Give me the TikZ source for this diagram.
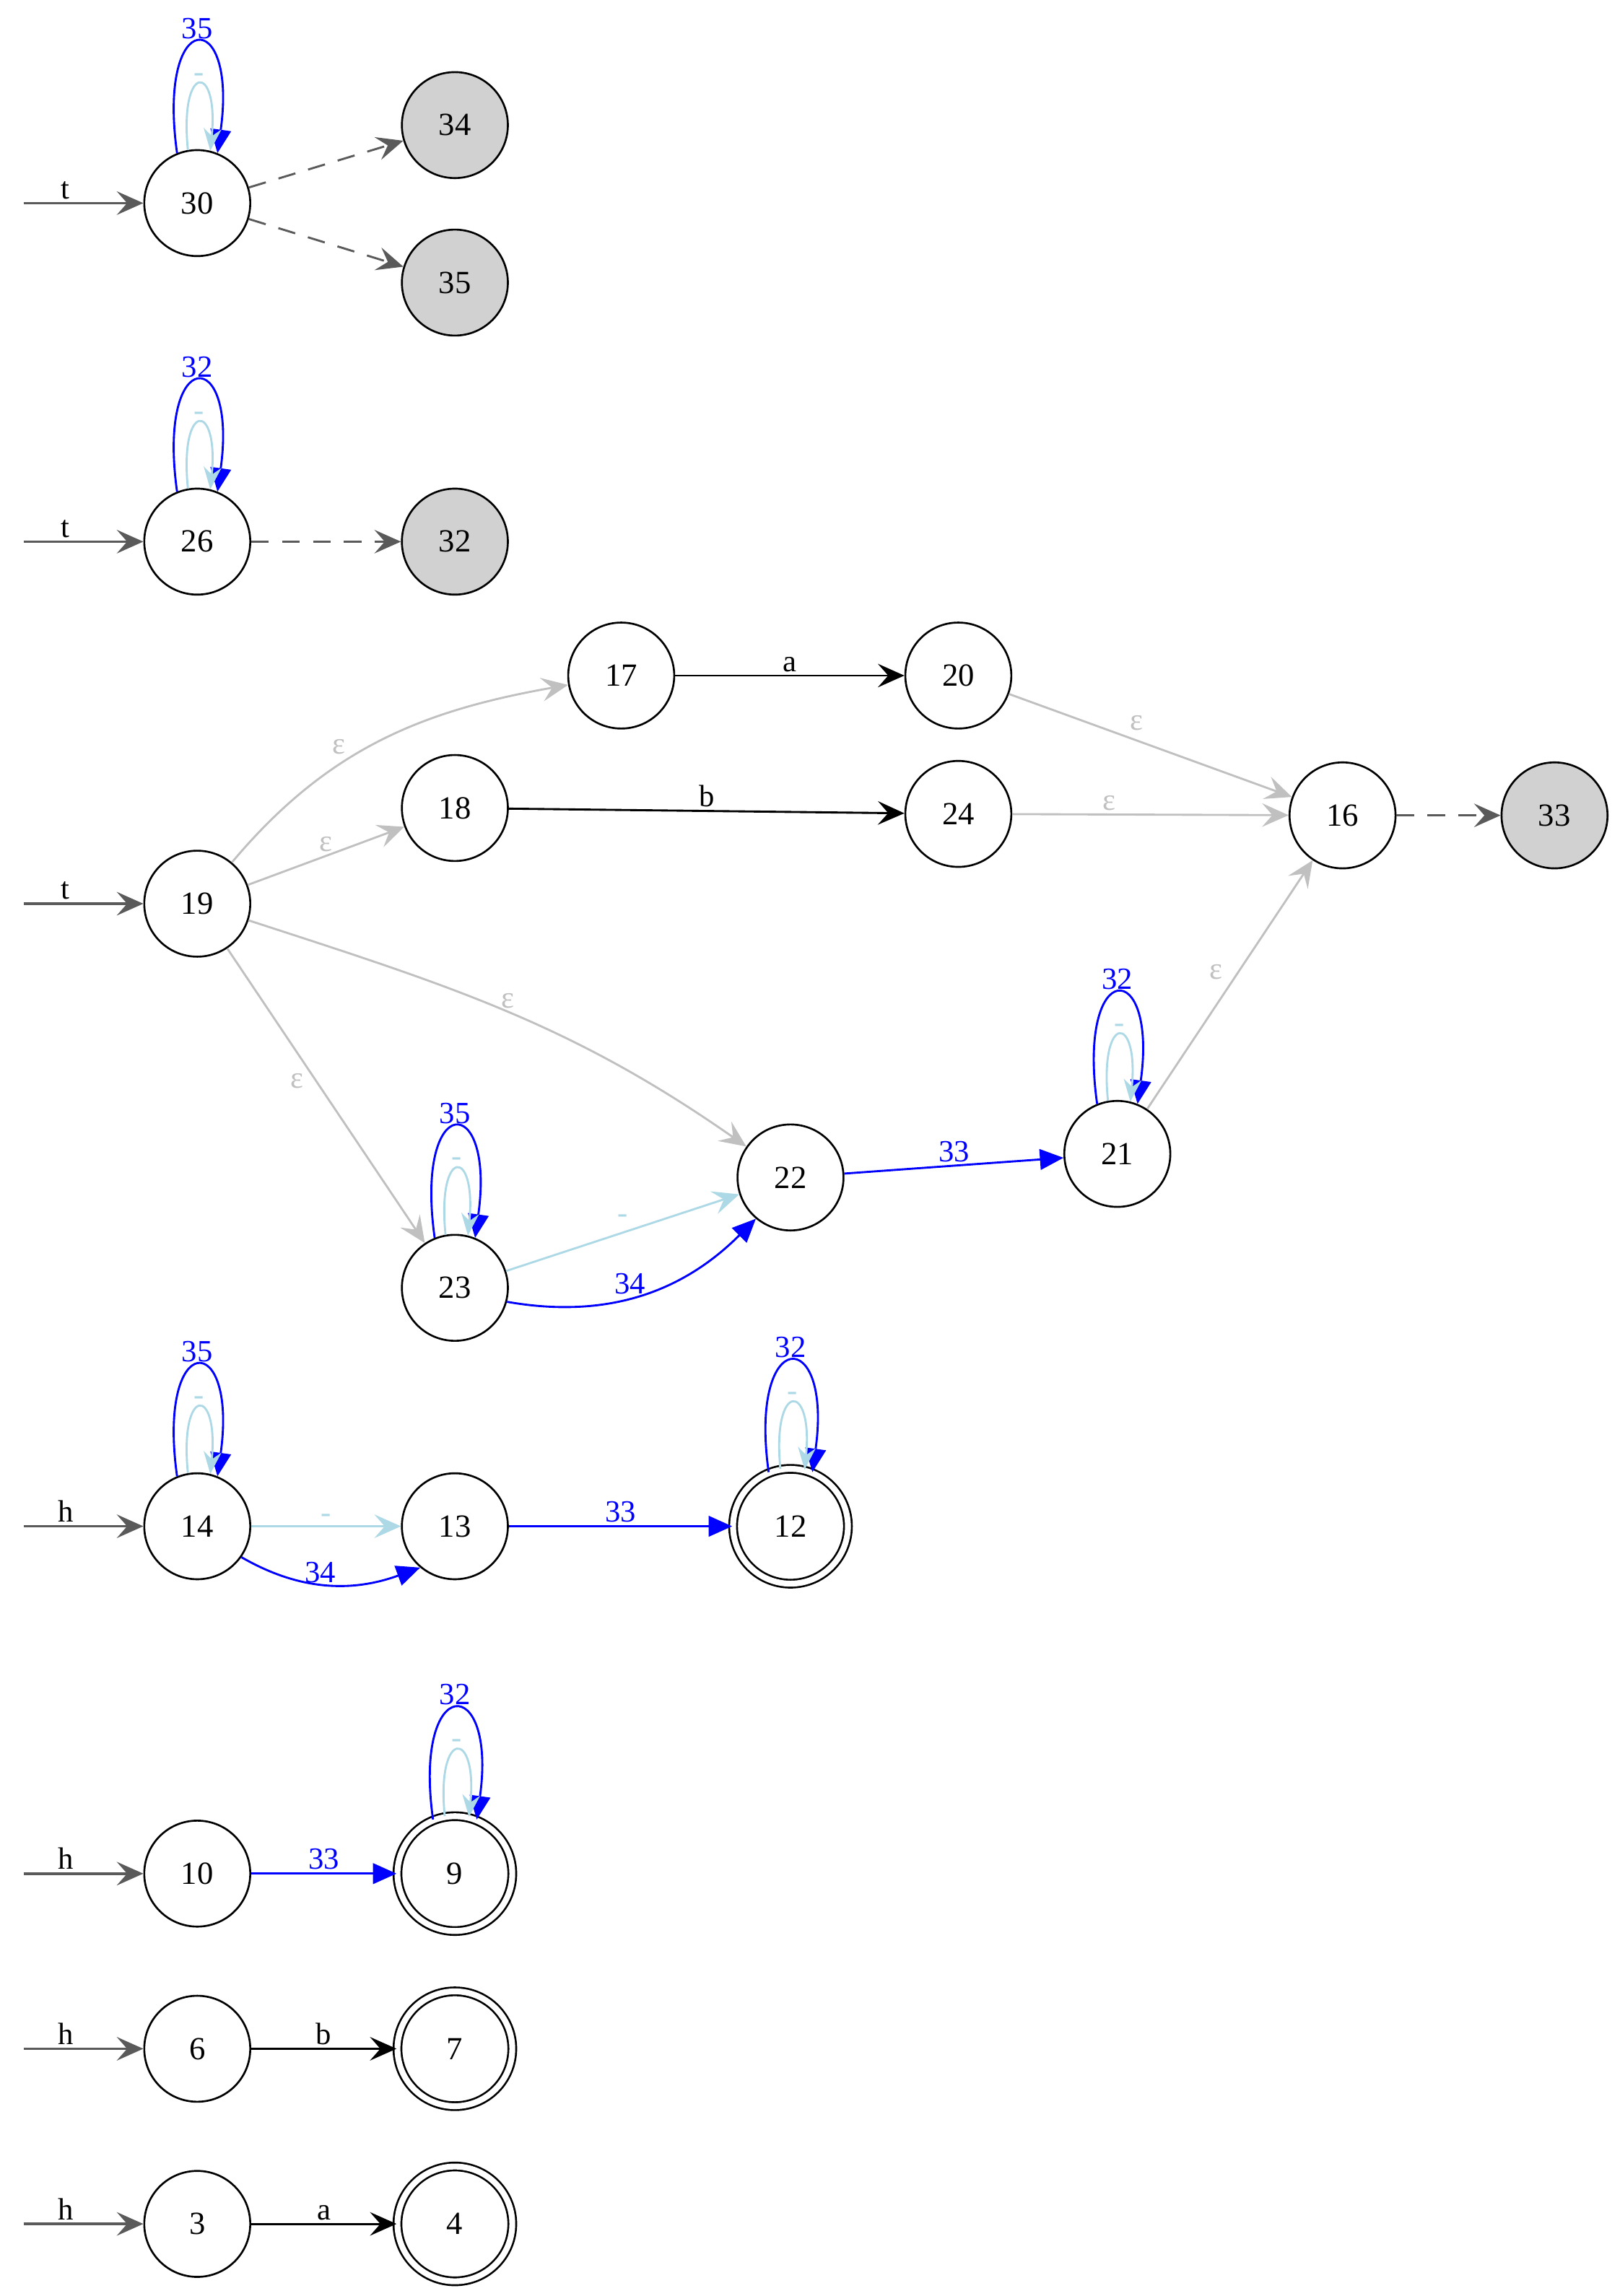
\documentclass[tikz,border=0pt]{standalone}
\usepackage{fontspec}
\setmainfont{Liberation Serif}
\usetikzlibrary{arrows.meta}
\definecolor{eps}{HTML}{C0C0C0}
\definecolor{lb}{HTML}{ADD8E6}
\definecolor{dg}{HTML}{5A5A5A}
\begin{document}
\begin{tikzpicture}[x=1bp,y=-1bp,
  st/.style={circle,draw,line width=1.3bp,minimum size=72bp,inner sep=0pt,font=\fontsize{22}{24}\selectfont},
  acc/.style={st,double,double distance=4bp,minimum size=78bp},
  sink/.style={st,fill=black!18},
  vee/.style={-{Stealth[length=18bp,width=16bp,inset=7bp]}},
  tri/.style={-{Triangle[length=16bp,width=14bp]}},
  lab/.style={font=\fontsize{21}{23}\selectfont,inner sep=2bp},
  init/.style={vee,dg,line width=1.8bp},
  dsh/.style={vee,dg,line width=1.4bp,dashed,dash pattern=on 12bp off 9bp},
  ep/.style={vee,eps,line width=1.4bp},
  bk/.style={vee,black,line width=1.4bp},
  bl/.style={tri,blue,line width=1.4bp},
  lbe/.style={vee,lb,line width=1.4bp}]
\useasboundingbox (0,0) rectangle (1100,1560);
% nodes
\node[st] (n30) at (134,138) {30};
\node[sink] (n34) at (309,85) {34};
\node[sink] (n35) at (309,192) {35};
\node[st] (n26) at (134,368) {26};
\node[sink] (n32) at (309,368) {32};
\node[st] (n17) at (422,459) {17};
\node[st] (n20) at (651,459) {20};
\node[st] (n18) at (309,549) {18};
\node[st] (n24) at (651,553) {24};
\node[st] (n19) at (134,614) {19};
\node[st] (n16) at (912,554) {16};
\node[sink] (n33) at (1056,554) {33};
\node[st] (n22) at (537,800) {22};
\node[st] (n21) at (759,784) {21};
\node[st] (n23) at (309,875) {23};
\node[st] (n14) at (134,1037) {14};
\node[st] (n13) at (309,1037) {13};
\node[acc] (n12) at (537,1037) {12};
\node[st] (n10) at (134,1273) {10};
\node[acc] (n9) at (309,1273) {9};
\node[st] (n6) at (134,1392) {6};
\node[acc] (n7) at (309,1392) {7};
\node[st] (n3) at (134,1511) {3};
\node[acc] (n4) at (309,1511) {4};
% initial arrows
\foreach \n/\l in {30/t,26/t,19/t,14/h,10/h,6/h,3/h}{
  \coordinate (s\n) at ([xshift=-118bp]n\n.center);
  \draw[init] (s\n) -- node[lab,above,black,pos=0.35] {\l} (n\n);
}
% self loops
\foreach \n/\l in {30/35,26/32,23/35,21/32,14/35,12/32,9/32}{
  \draw[bl] (n\n.112) .. controls +(-14,-100) and +(14,-100) .. node[lab,above,blue] {\l} (n\n.68);
  \draw[lb,line width=1.4bp,-{Stealth[length=15bp,width=12bp,inset=5bp]}] (n\n.100) .. controls +(-6,-60) and +(6,-60) .. node[lab,above,lb,yshift=-1bp] {-} (n\n.76);
}
% dashed
\draw[dsh] (n30) -- (n34);
\draw[dsh] (n30) -- (n35);
\draw[dsh] (n26) -- (n32);
\draw[dsh] (n16) -- (n33);
% middle graph
\draw[bk] (n17) -- node[lab,above] {a} (n20);
\draw[bk] (n18) -- node[lab,above] {b} (n24);
\draw[ep] (n19) to[out=50,in=190] node[lab,above left,eps,pos=0.4] {ε} (n17);
\draw[ep] (n19) -- node[lab,above,eps] {ε} (n18);
\draw[ep] (n19) to[out=-18,in=145] node[lab,above,eps,pos=0.5] {ε} (n22);
\draw[ep] (n19) -- node[lab,left,eps,pos=0.45,xshift=-6bp] {ε} (n23);
\draw[ep] (n20) -- node[lab,above,eps,pos=0.45,yshift=4bp] {ε} (n16);
\draw[ep] (n24) -- node[lab,above,eps,pos=0.35] {ε} (n16);
\draw[ep] (n21) -- node[lab,left,eps,pos=0.55,xshift=-8bp] {ε} (n16);
\draw[bl] (n22) -- node[lab,above,blue] {33} (n21);
\draw[lbe] (n23) -- node[lab,above,lb,pos=0.5,yshift=4bp] {-} (n22);
\draw[bl] (n23.-15) to[out=-10,in=225] node[lab,above,blue,pos=0.45] {34} (n22.-130);
% lower
\draw[lbe] (n14) -- node[lab,above,lb] {-} (n13);
\draw[bl] (n14.-35) to[out=-30,in=200] node[lab,above,blue,pos=0.45,yshift=-2bp] {34} (n13.-130);
\draw[bl] (n13) -- node[lab,above,blue] {33} (n12);
\draw[bl] (n10) -- node[lab,above,blue] {33} (n9);
\draw[bk] (n6) -- node[lab,above] {b} (n7);
\draw[bk] (n3) -- node[lab,above] {a} (n4);
\end{tikzpicture}
\end{document}
